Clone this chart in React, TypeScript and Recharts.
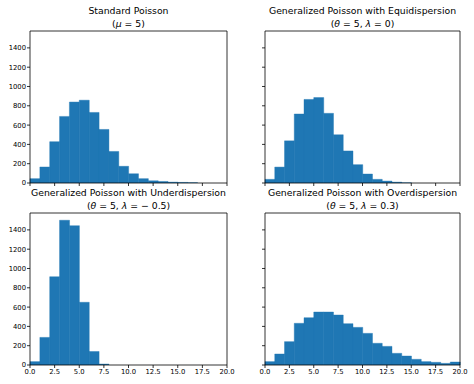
import React from "react";
import { BarChart, Bar, XAxis, YAxis, ReferenceLine } from "recharts";

// histogram bins: [k, k+1) for k = 0..19
const binStarts = [0, 1, 2, 3, 4, 5, 6, 7, 8, 9, 10, 11, 12, 13, 14, 15, 16, 17, 18, 19];

const standardCounts = [45, 166, 428, 690, 839, 858, 731, 555, 327, 173, 96, 45, 23, 16, 9, 6, 3, 0, 0, 0];
const equiCounts = [38, 165, 437, 715, 866, 885, 722, 500, 332, 190, 93, 38, 20, 9, 2, 0, 0, 0, 0, 0];
const underCounts = [35, 286, 915, 1500, 1444, 650, 140, 10, 0, 0, 0, 0, 0, 0, 0, 0, 0, 0, 0, 0];
const overCounts = [35, 114, 242, 432, 490, 549, 549, 518, 428, 390, 328, 225, 193, 121, 93, 59, 35, 28, 17, 31];

const xTicks = [0, 2.5, 5, 7.5, 10, 12.5, 15, 17.5, 20];
const yTicks = [0, 200, 400, 600, 800, 1000, 1200, 1400];
const X_MAX = 20;
const Y_MAX = 1575;

const BLUE = "#1f77b4";
const INK = "#000";
const FONT = "'DejaVu Sans', sans-serif";

function toRows(counts: number[]) {
  return binStarts.map((x0, i) => ({ bin: x0, x0, count: counts[i] }));
}

interface PanelProps {
  counts: number[];
  left: number;
  top: number;
  width: number;
  height: number;
  plotTop: number;
  yAxisWidth: number;
  xAxisHeight: number;
  marginRight: number;
  showYLabels: boolean;
  showXLabels: boolean;
  title: string;
  subtitle: React.ReactNode;
}

function Panel(p: PanelProps) {
  const plotLeft = p.yAxisWidth;
  const plotWidth = p.width - p.yAxisWidth - p.marginRight;
  const tickStyle = { fontSize: 6.8, fill: INK, fontFamily: FONT };
  const frame = { stroke: INK, strokeWidth: 0.8 };
  const titleStyle: React.CSSProperties = {
    position: "absolute",
    left: plotLeft - 40,
    width: plotWidth + 80,
    textAlign: "center",
    fontFamily: FONT,
    fontSize: 9.3,
    lineHeight: "12px",
    color: INK,
    whiteSpace: "nowrap",
  };

  return (
    <div style={{ position: "absolute", left: p.left, top: p.top, width: p.width, height: p.height }}>
      <div style={{ ...titleStyle, top: p.plotTop - 26.5 }}>{p.title}</div>
      <div style={{ ...titleStyle, top: p.plotTop - 13 }}>{p.subtitle}</div>
      <div style={{ position: "absolute", left: 0, top: 0 }}>
        <BarChart
          width={p.width}
          height={p.height}
          data={toRows(p.counts)}
          margin={{ top: p.plotTop, right: p.marginRight, bottom: 0, left: 0 }}
          barCategoryGap={0}
          barGap={0}
        >
          <XAxis
            xAxisId="num"
            dataKey="x0"
            type="number"
            domain={[0, X_MAX]}
            ticks={xTicks}
            interval={0}
            allowDataOverflow
            height={p.xAxisHeight}
            tickSize={3}
            tickMargin={1}
            axisLine={frame}
            tickLine={frame}
            tick={tickStyle}
            tickFormatter={(v: number) => (p.showXLabels ? v.toFixed(1) : "")}
          />
          <XAxis xAxisId="bins" dataKey="bin" type="category" hide height={0} />
          <YAxis
            yAxisId="left"
            domain={[0, Y_MAX]}
            ticks={yTicks}
            interval={0}
            allowDataOverflow
            width={p.yAxisWidth}
            tickSize={3}
            tickMargin={1}
            axisLine={frame}
            tickLine={frame}
            tick={tickStyle}
            tickFormatter={(v: number) => (p.showYLabels ? String(v) : "")}
          />
          <Bar
            xAxisId="bins"
            yAxisId="left"
            dataKey="count"
            fill={BLUE}
            stroke={BLUE}
            strokeWidth={0.4}
            isAnimationActive={false}
          />
          {/* top and right spines */}
          <ReferenceLine xAxisId="num" yAxisId="left" y={Y_MAX} {...frame} />
          <ReferenceLine xAxisId="num" yAxisId="left" x={X_MAX} {...frame} />
        </BarChart>
      </div>
    </div>
  );
}

const it = (s: string) => <span style={{ fontStyle: "italic" }}>{s}</span>;

export default function App() {
  return (
    <div style={{ position: "absolute", left: 0, top: 0, width: 474, height: 384, background: "#fff" }}>
      <Panel
        counts={standardCounts}
        left={0}
        top={0}
        width={237}
        height={190}
        plotTop={31}
        yAxisWidth={30}
        xAxisHeight={7}
        marginRight={10}
        showYLabels
        showXLabels={false}
        title="Standard Poisson"
        subtitle={<>({it("μ")} = 5)</>}
      />
      <Panel
        counts={equiCounts}
        left={237}
        top={0}
        width={237}
        height={190}
        plotTop={31}
        yAxisWidth={28}
        xAxisHeight={7}
        marginRight={14}
        showYLabels={false}
        showXLabels={false}
        title="Generalized Poisson with Equidispersion"
        subtitle={<>({it("θ")} = 5, {it("λ")} = 0)</>}
      />
      <Panel
        counts={underCounts}
        left={0}
        top={190}
        width={237}
        height={194}
        plotTop={23}
        yAxisWidth={30}
        xAxisHeight={19}
        marginRight={10}
        showYLabels
        showXLabels
        title="Generalized Poisson with Underdispersion"
        subtitle={<>({it("θ")} = 5, {it("λ")} = − 0.5)</>}
      />
      <Panel
        counts={overCounts}
        left={237}
        top={190}
        width={237}
        height={194}
        plotTop={23}
        yAxisWidth={28}
        xAxisHeight={19}
        marginRight={14}
        showYLabels={false}
        showXLabels
        title="Generalized Poisson with Overdispersion"
        subtitle={<>({it("θ")} = 5, {it("λ")} = 0.3)</>}
      />
    </div>
  );
}
